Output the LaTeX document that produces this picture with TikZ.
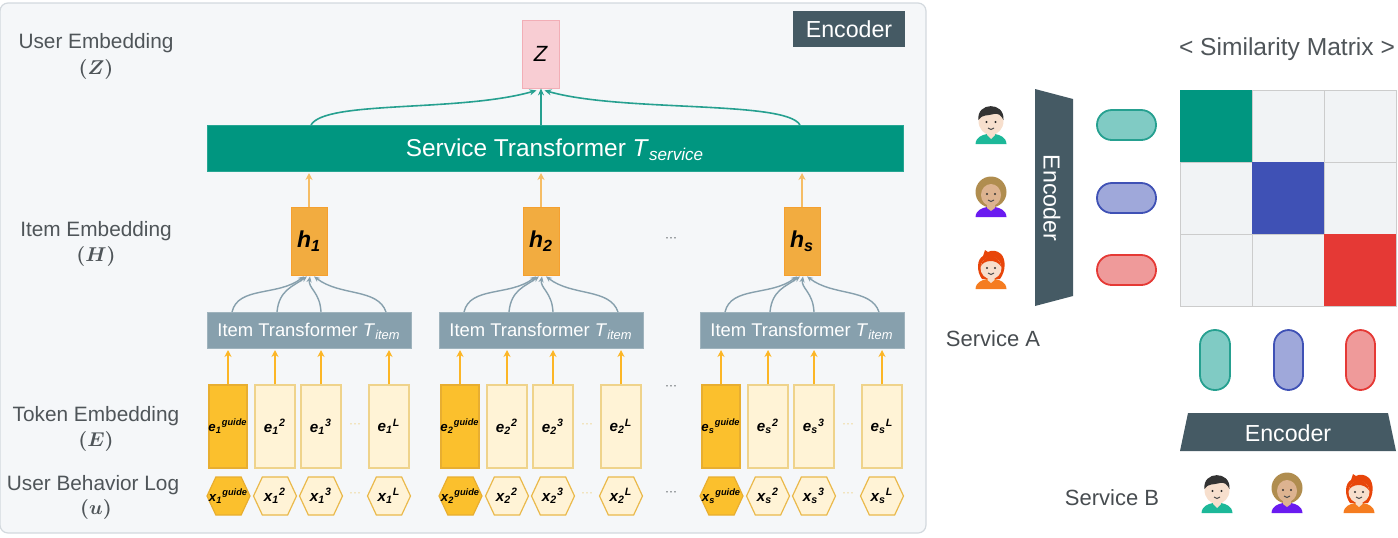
\documentclass[tikz,border=0pt]{standalone}
\usepackage{amsmath}
\usepackage{fontspec}
\setmainfont{Liberation Sans}
\usetikzlibrary{arrows.meta,calc,shapes.symbols}

\definecolor{panel}{HTML}{F5F7F9}
\definecolor{panelline}{HTML}{D3D9DE}
\definecolor{slate}{HTML}{455A64}
\definecolor{labeltxt}{HTML}{4F5559}
\definecolor{teal}{HTML}{009680}
\definecolor{tealline}{HTML}{26A090}
\definecolor{tealfill}{HTML}{80CBC4}
\definecolor{indigo}{HTML}{3F51B5}
\definecolor{indigofill}{HTML}{9FA8DA}
\definecolor{redm}{HTML}{E53935}
\definecolor{redfill}{HTML}{EF9A9A}
\definecolor{itembox}{HTML}{87A0AD}
\definecolor{hfill}{HTML}{F2AC40}
\definecolor{hline}{HTML}{F5A030}
\definecolor{guidefill}{HTML}{FBC02D}
\definecolor{guideline}{HTML}{E8AE30}
\definecolor{tokfill}{HTML}{FFF3D6}
\definecolor{tokline}{HTML}{EFD38B}
\definecolor{cellgray}{HTML}{F1F3F5}
\definecolor{zfill}{HTML}{F8CDD3}
\definecolor{zline}{HTML}{F2AEB6}
\definecolor{skin}{HTML}{F7DFCD}
\definecolor{tan}{HTML}{DDB390}
\definecolor{hairtan}{HTML}{B08D4F}
\definecolor{hairred}{HTML}{E8450A}
\definecolor{shirtteal}{HTML}{1DB899}
\definecolor{shirtvio}{HTML}{6A1BF0}
\definecolor{shirtorg}{HTML}{F57C20}

% bold italic token text, centred without widening its node
\newcommand{\tokt}[3]{\makebox[0pt][c]{\bfseries\itshape #1\textsubscript{#2}\textsuperscript{#3}}}

% all coordinates are reference pixels
\tikzset{
  x=.5pt, y=-.5pt,
  box/.style={rectangle, inner sep=0pt, draw},
  hbox/.style={box, fill=hfill, draw=hline, minimum width=18pt, minimum height=34pt,
    font=\fontsize{11.5}{13}\selectfont\bfseries\itshape},
  itemt/.style={box, fill=itembox, draw=itembox!80!white, text=white, minimum width=102pt, minimum height=18pt,
    text depth=0pt, font=\fontsize{9.2}{11}\selectfont},
  tok/.style={box, minimum height=41.5pt, minimum width=20pt, line width=.6pt, fill=tokfill, draw=tokline,
    font=\fontsize{7.6}{9}\selectfont},
  gtok/.style={tok, minimum width=19pt, fill=guidefill, draw=guideline},
  hex/.style={signal, signal to=west and east, signal pointer angle=130, inner sep=0pt, line width=.6pt,
    minimum width=21.5pt, minimum height=19pt, draw=guideline!70!tokline, fill=tokfill,
    font=\fontsize{7.6}{9}\selectfont},
  ghex/.style={hex, fill=guidefill, draw=guideline},
  lbl/.style={inner sep=0pt, text=labeltxt, text depth=0pt, font=\fontsize{10.4}{12}\selectfont},
  mlbl/.style={lbl, font=\fontsize{10.4}{12}\selectfont\boldmath},
  svc/.style={inner sep=0pt, text=labeltxt!90!black, font=\fontsize{11}{13}\selectfont},
  enc/.style={inner sep=0pt, text=white, font=\fontsize{11.6}{13}\selectfont},
  dots/.style={inner sep=0pt, font=\fontsize{6}{7}\selectfont},
  upyel/.style={draw=guidefill!85!orange, line width=.9pt, shorten >=.8pt, -{Stealth[length=3.5pt,width=3.5pt]}},
  uporg/.style={draw=hfill!80!white, line width=.9pt, shorten >=.8pt, -{Stealth[length=3.5pt,width=3.5pt]}},
  upgry/.style={draw=itembox, line width=.7pt, -{Stealth[length=3pt,width=2.6pt]}},
  upteal/.style={draw=tealline, line width=.8pt, -{Stealth[length=3.5pt,width=3pt]}},
  pill/.style={rounded corners=7.4pt, line width=.9pt},
  pics/man/.style n args={0}{code={
    \fill[shirtteal] (-15.5,22) .. controls (-15,15) and (-9,13) .. (-4,12) -- (4,12) .. controls (9,13) and (15,15) .. (15.5,22) -- cycle;
    \fill[skin] (-4,8) -- (4,8) -- (4,13) -- (0,17) -- (-4,13) -- cycle;
    \fill[skin] (0,-1) ellipse [x radius=12.5, y radius=14];
    \fill[black!80] (-12.5,-2) .. controls (-15,-20) and (14,-21) .. (12.5,-2) .. controls (10,-7) and (7,-9) .. (3,-8) .. controls (-3,-6) and (-9,-8) .. (-12.5,-2) -- cycle;
    \fill[black!85] (-4.5,0) circle (1.2) (4.5,0) circle (1.2);
    \draw[black!70,line width=.5pt] (-3,6) .. controls (-1,8) and (1,8) .. (3,6);
  }},
  pics/woman/.style n args={0}{code={
    \fill[hairtan] (0,-3) circle (15.5);
    \fill[shirtvio] (-15.5,22) .. controls (-15,15) and (-9,13) .. (-4,12) -- (4,12) .. controls (9,13) and (15,15) .. (15.5,22) -- cycle;
    \fill[tan] (-4,6) -- (4,6) -- (4,13) -- (0,16) -- (-4,13) -- cycle;
    \fill[tan] (0,0) ellipse [x radius=10, y radius=11];
    \fill[black!80] (-4,-1) circle (1.2) (4,-1) circle (1.2);
    \draw[black!70,line width=.5pt] (-3,5) .. controls (-1,7) and (1,7) .. (3,5);
  }},
  pics/redhead/.style n args={0}{code={
    \fill[shirtorg] (-15.5,22) .. controls (-15,15) and (-9,13) .. (-4,12) -- (4,12) .. controls (9,13) and (15,15) .. (15.5,22) -- cycle;
    \fill[hairred] (-6,-17) -- (-8,-11) .. controls (-14,-8) and (-15,4) .. (-9,12) -- (9,12) .. controls (15,4) and (15,-8) .. (10,-13) .. controls (6,-17) and (0,-17) .. (-3,-15) -- cycle;
    \fill[skin] (-3.5,6) -- (3.5,6) -- (3.5,13) -- (0,16) -- (-3.5,13) -- cycle;
    \fill[skin] (0,1) ellipse [x radius=10.5, y radius=11];
    \fill[hairred] (-10.5,0) .. controls (-8,-7) and (5,-9) .. (10.5,0) .. controls (8,-14) and (-8,-14) .. (-10.5,0) -- cycle;
    \fill[black!80] (-4,1) circle (1.2) (4,1) circle (1.2);
    \draw[black!70,line width=.5pt] (-3,6) .. controls (-1,8) and (1,8) .. (3,6);
  }},
}

\begin{document}
\begin{tikzpicture}
  \useasboundingbox (0,0) rectangle (1398,537);

  % left panel
  \draw[panelline, fill=panel, line width=.6pt, rounded corners=4pt] (0,3) rectangle (926,533);
  \node[enc, fill=slate, minimum width=56pt, minimum height=18pt] (enctag) at (849,29) {Encoder};

  % row labels
  \node[lbl] (l1) at (96,41) {User Embedding};
  \node[mlbl] (l1m) at (96,67) {$(\boldsymbol{Z})$};
  \node[lbl] (l2) at (96,229) {Item Embedding};
  \node[mlbl] (l2m) at (96,254) {$(\boldsymbol{H})$};
  \node[lbl] (l3) at (96,414) {Token Embedding};
  \node[mlbl] (l3m) at (96,439) {$(\boldsymbol{E})$};
  \node[lbl] (l4) at (93,483) {User Behavior Log};
  \node[mlbl] (l4m) at (96,507) {$(\boldsymbol{u})$};

  % top
  \node[box, fill=zfill, draw=zline, minimum width=18.5pt, minimum height=34pt,
    font=\fontsize{11}{13}\selectfont\itshape] (z) at (540.5,54) {Z};
  \node[box, fill=teal, draw=teal!85!white, text=white, minimum width=348pt, minimum height=23pt,
    text depth=0pt, font=\fontsize{12.2}{15}\selectfont] (st) at (555,148) {Service Transformer \textit{T}\textsubscript{\textit{service}}};
  \coordinate (sa) at (311,125);
  \coordinate (sb) at (541,125);
  \coordinate (sc) at (800,125);
  \draw[upteal] (sa) .. controls +(14,-25) and +(-77,22) .. ($(z.south)+(-4,2)$);
  \draw[upteal] (sb) -- (sb |- z.south);
  \draw[upteal] (sc) .. controls +(-14,-25) and +(77,22) .. ($(z.south)+(4,2)$);

  % three item groups
  \foreach \g/\gx/\sub in {1/207/1,2/439/2,3/700/s}{
    \node[hbox] (h\g) at (\gx+102,241) {h\textsubscript{\sub}};
    \draw[uporg] (h\g.north) -- (h\g.north |- st.south);

    \node[itemt] (t\g) at (\gx+102,330) {Item Transformer \textit{T}\textsubscript{\textit{item}}};
    \coordinate (ca\g) at (\gx+25,312);
    \coordinate (cb\g) at (\gx+70,312);
    \coordinate (cc\g) at (\gx+114,312);
    \coordinate (cd\g) at (\gx+179,312);
    \draw[upgry] (ca\g) .. controls +(6,-26) and +(-26,20) .. ($(h\g.south)+(-5,1)$);
    \draw[upgry] (cb\g) .. controls +(2,-22) and +(-14,10) .. ($(h\g.south)+(-2,1)$);
    \draw[upgry] (cc\g) .. controls +(-1,-20) and +(-2,12) .. ($(h\g.south)+(1,1)$);
    \draw[upgry] (cd\g) .. controls +(-8,-24) and +(26,20) .. ($(h\g.south)+(5,1)$);

    \node[gtok] (e\g-1) at (\gx+21,426.5) {\fontsize{6.6}{8}\selectfont\tokt{e}{\sub}{guide}};
    \node[ghex] (x\g-1) at (\gx+21.5,496) {\fontsize{6.6}{8}\selectfont\tokt{x}{\sub}{guide}};
    \draw[upyel] (e\g-1.north) -- (e\g-1.north |- t\g.south);
    \foreach \j/\off in {2/68,3/114,L/182}{
      \node[tok] (e\g-\j) at (\gx+\off,426.5) {\tokt{e}{\sub}{\j}};
      \node[hex] (x\g-\j) at (\gx+\off,496) {\tokt{x}{\sub}{\j}};
      \draw[upyel] (e\g-\j.north) -- (e\g-\j.north |- t\g.south);
    }
    \node[dots, text=tokline] (de\g) at (\gx+148,426) {···};
    \node[dots, text=tokline] (dx\g) at (\gx+148,495) {···};
  }
  \node[dots, text=labeltxt] (dh) at (671,240) {···};
  \node[dots, text=labeltxt] (de) at (671,388) {···};
  \node[dots, text=labeltxt] (dx) at (671,494) {···};

  % right side, service A
  \pic at (991,122) {man};
  \pic at (991,195) {woman};
  \pic at (991,267) {redhead};
  \fill[slate] (1035,89) -- (1073,99) -- (1073,296) -- (1035,306) -- cycle;
  \node[enc, rotate=-90] (enca) at (1052,198) {Encoder};
  \node[svc] (sva) at (993,339) {Service A};

  \draw[pill, draw=tealline, fill=tealfill] (1097,110) rectangle (1156,140);
  \draw[pill, draw=indigo, fill=indigofill] (1097,183) rectangle (1156,213);
  \draw[pill, draw=redm, fill=redfill] (1097,255) rectangle (1156,285);

  % similarity matrix
  \node[lbl, font=\fontsize{12.3}{14}\selectfont] (simt) at (1287,47) {< Similarity Matrix >};
  \foreach \r in {0,1,2}
    \foreach \c in {0,1,2}
      \node[box, fill=cellgray, draw=gray!40, minimum size=36pt] (m\r\c) at (1216+72*\c,126+72*\r) {};
  \fill[teal] (m00.north west) rectangle (m00.south east);
  \fill[indigo] (m11.north west) rectangle (m11.south east);
  \fill[redm] (m22.north west) rectangle (m22.south east);

  % service B
  \draw[pill, draw=tealline, fill=tealfill] (1200,330) rectangle (1230,390);
  \draw[pill, draw=indigo, fill=indigofill] (1274,330) rectangle (1303,390);
  \draw[pill, draw=redm, fill=redfill] (1346,330) rectangle (1375,390);
  \fill[slate] (1188,413) -- (1388,413) -- (1396,451) -- (1180,451) -- cycle;
  \node[enc] (encb) at (1288,433) {Encoder};
  \node[svc] (svb) at (1112,498) {Service B};
  \pic at (1217,491) {man};
  \pic at (1287,491) {woman};
  \pic at (1359,491) {redhead};
\end{tikzpicture}
\end{document}
